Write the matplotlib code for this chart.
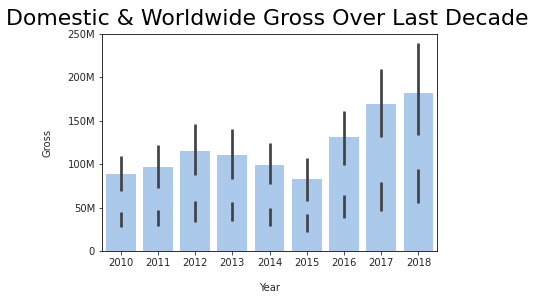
import matplotlib
matplotlib.use("Agg")
import matplotlib.pyplot as plt
import numpy as np
from matplotlib.ticker import FuncFormatter

# values in millions
years = ["2010", "2011", "2012", "2013", "2014", "2015", "2016", "2017", "2018"]
worldwide_mean = [88.8, 96.9, 115.4, 110.8, 99.2, 83.1, 131.5, 169.6, 182.3]
worldwide_low = [68.8, 73.1, 88.1, 83.5, 77.7, 58.1, 99.6, 130.8, 133.1]
worldwide_high = [109.2, 121.9, 146.2, 140.4, 124.2, 106.9, 161.2, 209.6, 239.6]
domestic_mean = [36.0, 38.0, 45.0, 45.0, 39.0, 32.0, 50.0, 62.0, 74.0]
domestic_low = [28.1, 29.2, 33.8, 35.0, 29.2, 22.3, 37.7, 46.5, 55.0]
domestic_high = [44.6, 47.3, 57.7, 56.5, 49.6, 42.7, 64.6, 79.6, 94.6]

bar_color = "#abc9eb"
err_color = "#424242"

fig = plt.figure(figsize=(538 / 72, 301 / 72), dpi=72)
ax = fig.add_axes([0.1896, 0.1661, 0.6227, 0.7209])

x = np.arange(len(years))
ax.bar(x, worldwide_mean, width=0.8, color=bar_color)
ax.bar(x, domestic_mean, width=0.8, color=bar_color)
ax.vlines(x, worldwide_low, worldwide_high, color=err_color, linewidth=2.7)
ax.vlines(x, domestic_low, domestic_high, color=err_color, linewidth=2.7)

ax.set_xlim(-0.5, len(years) - 0.5)
ax.set_ylim(0, 250)
ax.set_xticks(x)
ax.set_xticklabels(years)
ax.set_yticks([0, 50, 100, 150, 200, 250])
ax.yaxis.set_major_formatter(FuncFormatter(lambda v, p: "0" if v == 0 else f"{int(v)}M"))
ax.tick_params(labelsize=10, colors="#262626", labelcolor="#262626")

ax.set_xlabel("Year", fontsize=10, labelpad=15, color="#262626")
ax.set_ylabel("Gross", fontsize=10, labelpad=15, color="#262626")
fig.text(0.496, 0.9186, "Domestic & Worldwide Gross Over Last Decade",
         ha="center", va="baseline", fontsize=22, color="black")

fig.savefig("out.png", dpi=72, facecolor="white")
